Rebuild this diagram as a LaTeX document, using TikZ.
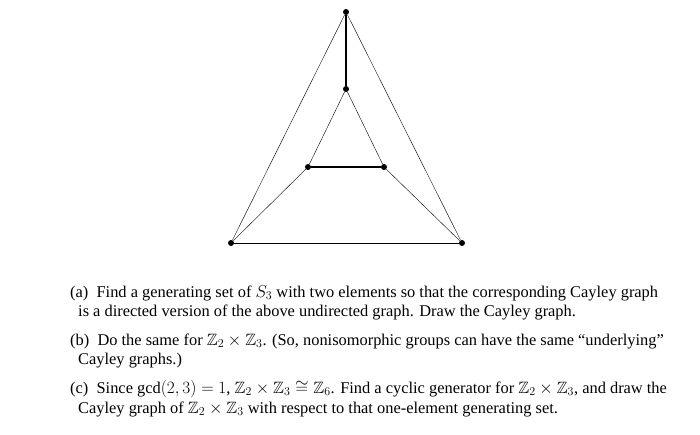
\documentclass[tikz,border=0pt]{standalone}
\usepackage{amssymb}
\usepackage{fontspec}
\setmainfont{Liberation Serif}
\begin{document}
\begin{tikzpicture}[x=1pt,y=-1pt,
  vtx/.style={circle,fill=black,inner sep=0pt,minimum size=6pt},
  thin edge/.style={draw,line width=0.4pt},
  thick edge/.style={draw,line width=1.5pt},
  txt/.style={anchor=base west,inner sep=0pt,font=\fontsize{16.4}{18}\selectfont}]
\useasboundingbox (0,0) rectangle (700,434);
\node[vtx] (ot) at (346,12) {};
\node[vtx] (ol) at (231,243) {};
\node[vtx] (or) at (462,243) {};
\node[vtx] (it) at (346,89) {};
\node[vtx] (il) at (308,167) {};
\node[vtx] (ir) at (384,167) {};
\path[thin edge] (ot) -- (ol);
\path[thin edge] (ot) -- (or);
\path[draw,line width=0.9pt] (ol) -- (or);
\path[thin edge] (it) -- (il);
\path[thin edge] (it) -- (ir);
\path[thin edge] (il) -- (ol);
\path[thin edge] (ir) -- (or);
\path[thick edge] (ot) -- (it);
\path[thick edge] (il) -- (ir);
\node[txt] (a1) at (70,297) {(a)\ \ Find a generating set of $S_3$ with two elements so that the corresponding Cayley graph};
\node[txt] (a2) at (78,316) {is a directed version of the above undirected graph. Draw the Cayley graph.};
\node[txt] (b1) at (70,345) {(b)\ \ Do the same for $\mathbb{Z}_2\times\mathbb{Z}_3$. (So, nonisomorphic groups can have the same ``underlying''};
\node[txt] (b2) at (78,364) {Cayley graphs.)};
\node[txt] (c1) at (70,393) {(c)\ \ Since $\gcd(2,3)=1$, $\mathbb{Z}_2\times\mathbb{Z}_3\cong\mathbb{Z}_6$. Find a cyclic generator for $\mathbb{Z}_2\times\mathbb{Z}_3$, and draw the};
\node[txt] (c2) at (78,413) {Cayley graph of $\mathbb{Z}_2\times\mathbb{Z}_3$ with respect to that one-element generating set.};
\end{tikzpicture}
\end{document}
